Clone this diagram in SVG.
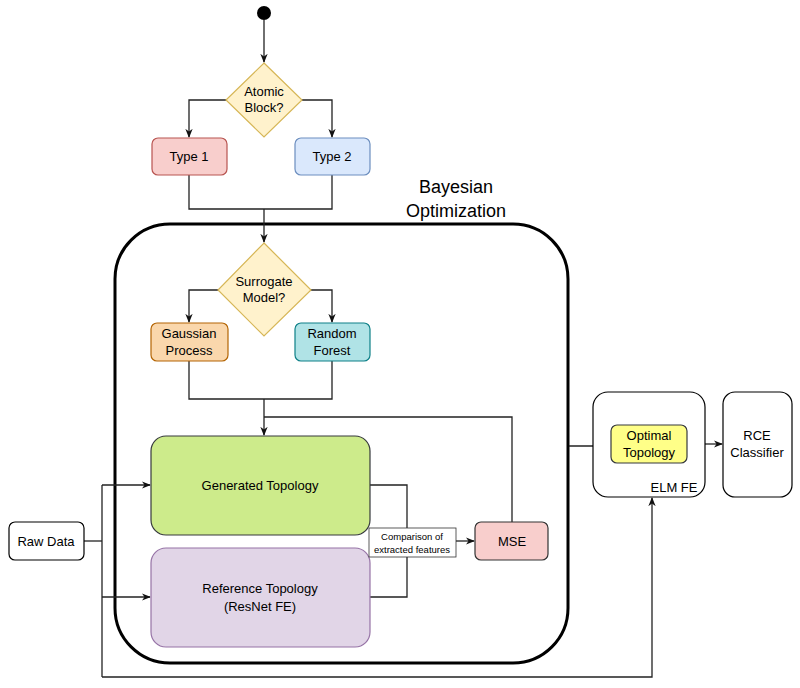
<svg xmlns="http://www.w3.org/2000/svg" width="800" height="688" viewBox="0 0 800 688">
<style>
text{font-family:"Liberation Sans",Arial,sans-serif;font-size:13px;fill:#000;text-anchor:middle}
.c{fill:none;stroke:#222;stroke-width:1.3}
.n{stroke-width:1.2}
</style>
<defs><marker id="a" viewBox="0 0 10 10" refX="9" refY="5" markerWidth="7" markerHeight="7" orient="auto"><path d="M0,1 L10,5 L0,9 L3,5 Z" fill="#111"/></marker></defs>
<rect width="800" height="688" fill="#fff"/>
<g id="bo"><rect x="115" y="224" width="453" height="439" rx="55" fill="none" stroke="#000" stroke-width="3"/>
<text x="456" y="193" style="font-size:18px">Bayesian</text><text x="456" y="217" style="font-size:18px">Optimization</text></g>
<g id="connectors">
<path class="c" d="M264,20 V62" marker-end="url(#a)"/>
<path class="c" d="M227,100 H189 V137" marker-end="url(#a)"/>
<path class="c" d="M302,100 H332 V137" marker-end="url(#a)"/>
<path class="c" d="M189,175 V209 H332 V175"/>
<path class="c" d="M264,209 V242" marker-end="url(#a)"/>
<path class="c" d="M218,290 H189 V322" marker-end="url(#a)"/>
<path class="c" d="M311,290 H332 V322" marker-end="url(#a)"/>
<path class="c" d="M189,361 V399 H332 V361"/>
<path class="c" d="M264,399 V435" marker-end="url(#a)"/>
<path class="c" d="M512,522 V417 H264"/>
<path class="c" d="M84,541 H102"/>
<path class="c" d="M102,485 V677"/>
<path class="c" d="M102,485 H150" marker-end="url(#a)"/>
<path class="c" d="M102,597 H150" marker-end="url(#a)"/>
<path class="c" d="M102,677 H652 V498" marker-end="url(#a)"/>
<path class="c" d="M370,485 H407 V597 H370"/>
<path class="c" d="M456,541 H474" marker-end="url(#a)"/>
<path class="c" d="M569,446 H610" marker-end="url(#a)"/>
<path class="c" d="M705,444 H722" marker-end="url(#a)"/>
</g>
<g id="start"><circle cx="264" cy="13" r="7" fill="#000"/></g>
<g id="atomic"><polygon class="n" points="264,63 302,100 264,137 226,100" fill="#fff2cc" stroke="#d6b656"/><text x="264" y="96">Atomic</text><text x="264" y="112">Block?</text></g>
<g id="type1"><rect class="n" x="152" y="138" width="75" height="37" rx="6" fill="#f8cecc" stroke="#b85450"/><text x="189" y="161">Type 1</text></g>
<g id="type2"><rect class="n" x="295" y="138" width="75" height="37" rx="6" fill="#dae8fc" stroke="#6c8ebf"/><text x="332" y="161">Type 2</text></g>
<g id="surrogate"><polygon class="n" points="264,243 311,290 264,336 218,290" fill="#fff2cc" stroke="#d6b656"/><text x="264" y="286">Surrogate</text><text x="264" y="302">Model?</text></g>
<g id="gp"><rect class="n" x="151" y="323" width="77" height="38" rx="6" fill="#fad7ac" stroke="#b46504"/><text x="189" y="338">Gaussian</text><text x="189" y="355">Process</text></g>
<g id="rf"><rect class="n" x="295" y="323" width="75" height="38" rx="6" fill="#b0e3e6" stroke="#0e8088"/><text x="332" y="338">Random</text><text x="332" y="355">Forest</text></g>
<g id="gen"><rect class="n" x="151" y="436" width="219" height="99" rx="15" fill="#cdeb8b" stroke="#36393d"/><text x="260" y="490">Generated Topology</text></g>
<g id="ref"><rect class="n" x="151" y="548" width="219" height="99" rx="15" fill="#e1d5e7" stroke="#9673a6"/><text x="260" y="593">Reference Topology</text><text x="260" y="611">(ResNet FE)</text></g>
<g id="raw"><rect class="n" x="9" y="522" width="75" height="38" rx="6" fill="#fff" stroke="#000"/><text x="46" y="546">Raw Data</text></g>
<g id="cmp"><rect x="369" y="528" width="87" height="29" fill="#fff" stroke="#333" stroke-width="0.8"/><text x="412" y="540" style="font-size:9.5px">Comparison of</text><text x="412" y="553" style="font-size:9.5px">extracted features</text></g>
<g id="mse"><rect class="n" x="475" y="522" width="73" height="38" rx="6" fill="#f8cecc" stroke="#333"/><text x="512" y="546">MSE</text></g>
<g id="elm"><rect class="n" x="593" y="392" width="112" height="105" rx="15" fill="#fff" stroke="#000"/><text x="674" y="492">ELM FE</text></g>
<g id="opt"><rect class="n" x="611" y="425" width="76" height="38" rx="6" fill="#ffff88" stroke="#36393d"/><text x="649" y="440">Optimal</text><text x="649" y="457">Topology</text></g>
<g id="rce"><rect class="n" x="723" y="392" width="69" height="105" rx="12" fill="#fff" stroke="#000"/><text x="757" y="440">RCE</text><text x="757" y="457">Classifier</text></g>
</svg>
